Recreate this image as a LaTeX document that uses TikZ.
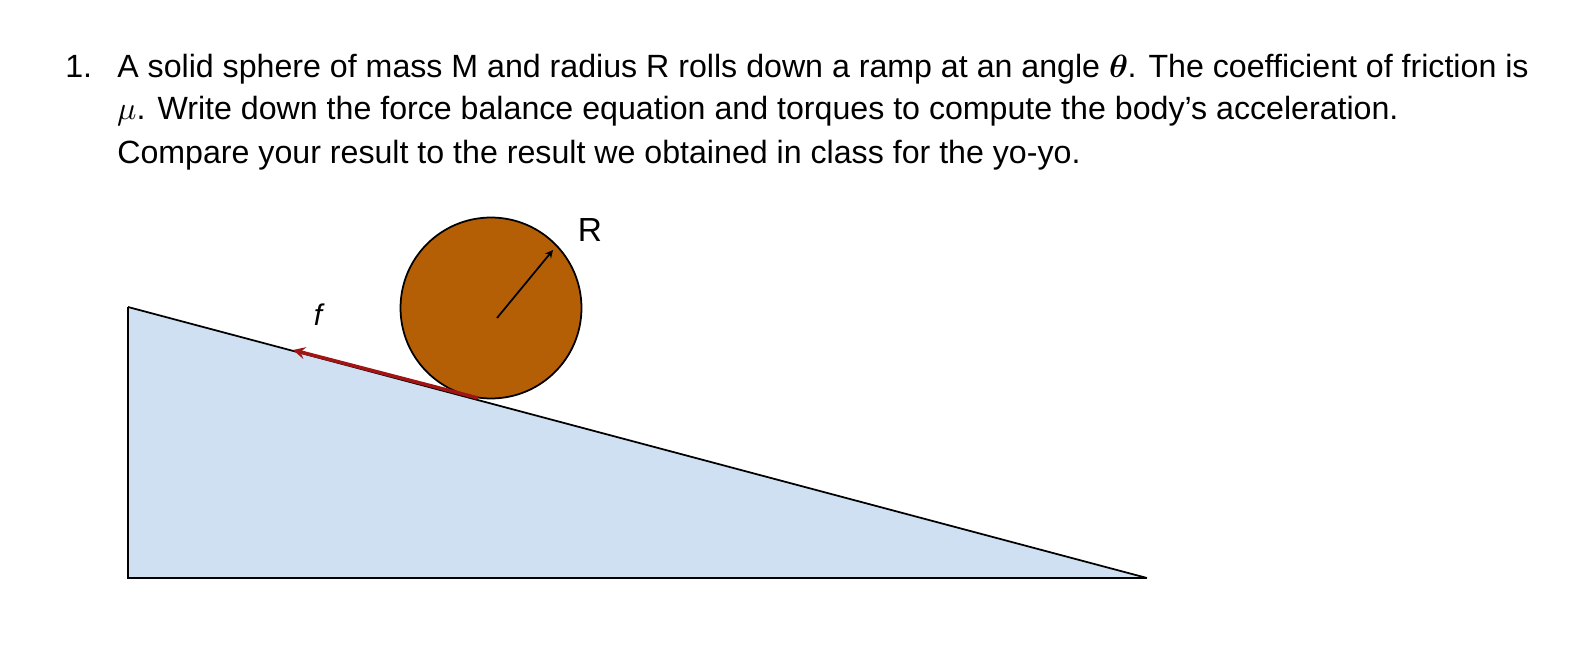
\documentclass[tikz,border=0pt]{standalone}
\usepackage{fontspec}
\setmainfont{Liberation Sans}
\usepackage{unicode-math}
\setmathfont{Latin Modern Math}
\begin{document}
\begin{tikzpicture}[x=0.02cm,y=-0.02cm,
  txt/.style={anchor=base west,inner sep=0pt,font=\fontsize{18.3}{21}\selectfont}]
\useasboundingbox (0,0) rectangle (1581,665);
\node[txt] (n1) at (65,78) {1.};
\node[txt] (l1) at (117,78) {A solid sphere of mass M and radius R rolls down a ramp at an angle $\symbfit{\theta}$. The coefficient of friction is};
\node[txt] (l2) at (117,120) {$\mu$. Write down the force balance equation and torques to compute the body’s acceleration.};
\node[txt] (l3) at (117,164) {Compare your result to the result we obtained in class for the yo-yo.};
\coordinate (A) at (128,307); \coordinate (B) at (128,578); \coordinate (C) at (1147,578);
\fill[fill={rgb,255:red,207;green,224;blue,242}] (A) -- (B) -- (C) -- cycle;
\draw[line width=1pt] (A) -- (C);
\draw[line width=1.4pt] (A) -- (B) -- (C);
\node[circle,draw,line width=1pt,fill={rgb,255:red,180;green,95;blue,6},minimum size=3.62cm,inner sep=0] (ball) at (491,308) {};
\coordinate (ct) at (478,398); \coordinate (fe) at (293,350);
\draw[->,>=stealth,line width=2pt,draw={rgb,255:red,160;green,20;blue,20}] (ct) -- (fe);
\coordinate (c0) at (497,318); \coordinate (c1) at (553,250);
\draw[->,>=stealth,line width=1pt] (c0) -- (c1);
\node[font=\fontsize{19}{21}\selectfont] (R) at (590,230) {R};
\node[font=\fontsize{17}{21}\selectfont\itshape] (f) at (318,315) {f};
\end{tikzpicture}
\end{document}
